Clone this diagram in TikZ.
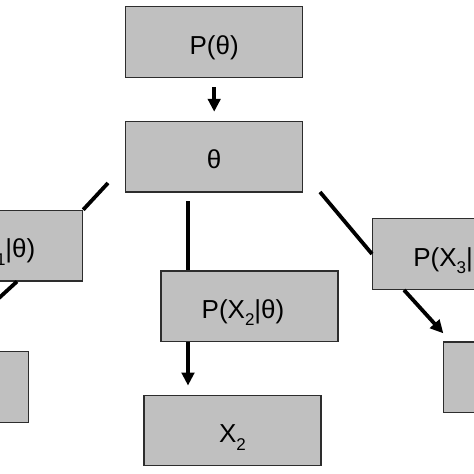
\documentclass[tikz,border=0pt]{standalone}
\usepackage{fontspec}
\setmainfont{Liberation Sans}
\usetikzlibrary{arrows.meta}
\definecolor{boxgray}{RGB}{192,192,192}
\definecolor{boxline}{RGB}{45,45,45}
\newcommand{\lowsub}[1]{\raisebox{-7.5pt}{\fontsize{17}{17}\selectfont #1}}
\begin{document}
\begin{tikzpicture}[x=1pt,y=-1pt,
  box/.style={draw=boxline, line width=1.4pt, fill=boxgray, minimum width=177pt,
    minimum height=70.5pt, inner sep=0pt, text height=24pt, text depth=0pt,
    font=\fontsize{26}{30}\selectfont},
  link/.style={line width=3.8pt},
  arr/.style={line width=3.8pt, -{Triangle[width=12.5pt,length=13pt]}}]
\useasboundingbox (0,0) rectangle (474,474);
\fill[white] (0,0) rectangle (474,474);
\clip (0,0) rectangle (474,474);
% nodes
\node[box] (pth) at (214.2,42) {P(θ)};
\node[box] (th) at (214.2,156.7) {θ};
\node[box] (p1) at (-6,245.7) {P(X\lowsub{1}|θ)};
\node[box] (x1) at (-59.8,387) {X\lowsub{1}};
\node[box] (p2) at (249.5,306.3) {P(X\lowsub{2}|θ)\hspace*{13pt}};
\node[box] (x2) at (232.5,430.5) {X\lowsub{2}};
\node[box] (p3) at (461.2,254) {P(X\lowsub{3}|θ)\hspace*{13pt}};
\node[box] (x3) at (531.8,377.3) {X\lowsub{3}};
% free ends
\coordinate (l1s) at (108,183);
\coordinate (l2s) at (17,281.5);
\coordinate (l2e) at (-25,320);
\coordinate (c2s) at (188,201);
\coordinate (r1s) at (320,192);
\coordinate (r2s) at (404,290);
\coordinate (r2e) at (443.3,333.3);
% connectors
\draw[arr, shorten <=9.5pt, shorten >=9pt] (pth.south) -- (th.north);
\draw[link] (l1s) -- (p1.north east);
\draw[link] (l2s) -- (l2e);
\draw[link] (c2s) -- (c2s |- p2.north);
\draw[arr, shorten >=9pt] (c2s |- p2.south) -- (c2s |- x2.north);
\draw[link] (r1s) -- (p3.west);
\draw[arr] (r2s) -- (r2e);
\end{tikzpicture}
\end{document}
